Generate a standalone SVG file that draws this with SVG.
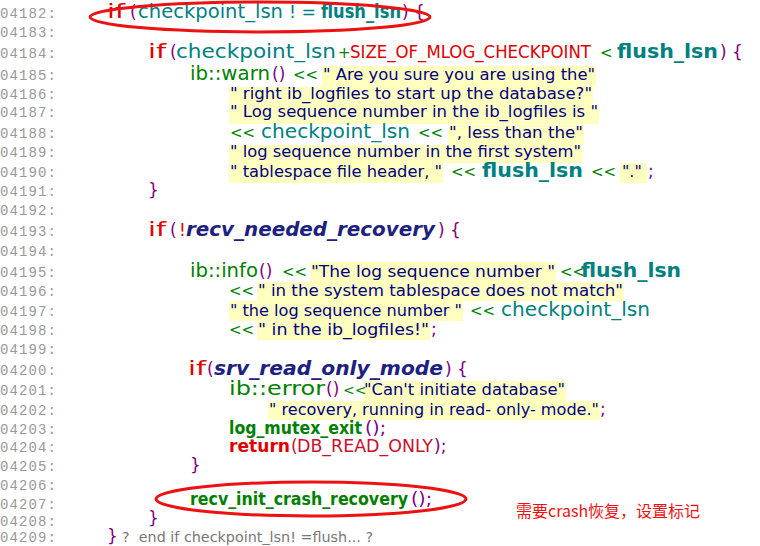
<svg xmlns="http://www.w3.org/2000/svg" width="760" height="546" viewBox="0 0 760 546">
<style>
text{font-family:"DejaVu Sans",Verdana,sans-serif;}
.n{font-family:"Liberation Mono",monospace;font-size:14px;fill:#999}
.k{fill:#e00000;font-size:19px}
.kb{fill:#e00000;font-weight:bold;font-size:17px}
.p{fill:#800080;font-size:17px}
.i{fill:#008080;font-size:19px}
.b{fill:#008080;font-size:19px;font-weight:bold}
.g{fill:#008000;font-size:17px}
.gb{fill:#008000;font-size:17px;font-weight:bold}
.s{fill:#000080;font-size:16px}
.r{fill:#e00000;font-size:17px}
.bi{fill:#202080;font-size:19px;font-weight:bold;font-style:italic}
.c{fill:#777;font-size:14px}
.hl{fill:#ffffc0}
.ov{fill:none;stroke:#ee1111;stroke-width:3}
</style>
<rect width="760" height="546" fill="#fff"/>
<g id="highlights">
<rect class="hl" x="322" y="66" width="274" height="21"/>
<rect class="hl" x="229" y="87" width="364" height="18"/>
<rect class="hl" x="229" y="105" width="370" height="19"/>
<rect class="hl" x="448" y="125" width="136" height="20"/>
<rect class="hl" x="229" y="145" width="353" height="18"/>
<rect class="hl" x="229" y="163" width="214" height="20"/>
<rect class="hl" x="620" y="163" width="27" height="20"/>
<rect class="hl" x="310" y="262" width="246" height="20"/>
<rect class="hl" x="257" y="282" width="367" height="19"/>
<rect class="hl" x="229" y="301" width="234" height="20"/>
<rect class="hl" x="257" y="321" width="173" height="19"/>
<rect class="hl" x="363" y="381" width="203" height="20"/>
<rect class="hl" x="268" y="401" width="332" height="19"/>
</g>
<g id="linenumbers">
<text class="n" x="0" y="18" textLength="56">04182:</text>
<text class="n" x="0" y="37" textLength="56">04183:</text>
<text class="n" x="0" y="58" textLength="56">04184:</text>
<text class="n" x="0" y="80" textLength="56">04185:</text>
<text class="n" x="0" y="99" textLength="56">04186:</text>
<text class="n" x="0" y="117" textLength="56">04187:</text>
<text class="n" x="0" y="138" textLength="56">04188:</text>
<text class="n" x="0" y="157" textLength="56">04189:</text>
<text class="n" x="0" y="177" textLength="56">04190:</text>
<text class="n" x="0" y="196" textLength="56">04191:</text>
<text class="n" x="0" y="215" textLength="56">04192:</text>
<text class="n" x="0" y="236" textLength="56">04193:</text>
<text class="n" x="0" y="256" textLength="56">04194:</text>
<text class="n" x="0" y="277" textLength="56">04195:</text>
<text class="n" x="0" y="296" textLength="56">04196:</text>
<text class="n" x="0" y="316" textLength="56">04197:</text>
<text class="n" x="0" y="335" textLength="56">04198:</text>
<text class="n" x="0" y="354" textLength="56">04199:</text>
<text class="n" x="0" y="375" textLength="56">04200:</text>
<text class="n" x="0" y="395" textLength="56">04201:</text>
<text class="n" x="0" y="415" textLength="56">04202:</text>
<text class="n" x="0" y="434" textLength="56">04203:</text>
<text class="n" x="0" y="452" textLength="56">04204:</text>
<text class="n" x="0" y="471" textLength="56">04205:</text>
<text class="n" x="0" y="490" textLength="56">04206:</text>
<text class="n" x="0" y="509" textLength="56">04207:</text>
<text class="n" x="0" y="526" textLength="56">04208:</text>
<text class="n" x="0" y="542" textLength="56">04209:</text>
</g>
<g id="code">
<text class="k" x="107" y="18" textLength="18" lengthAdjust="spacingAndGlyphs">if</text>
<text class="p" x="130" y="18">(</text>
<text class="i" x="138" y="18" textLength="145" lengthAdjust="spacingAndGlyphs">checkpoint_lsn</text>
<text class="i" x="289" y="18" textLength="27" lengthAdjust="spacingAndGlyphs" style="font-size:17px">! =</text>
<text class="b" x="321" y="18" textLength="80" lengthAdjust="spacingAndGlyphs">flush_lsn</text>
<text class="p" x="402" y="18">) {</text>

<text class="k" x="148" y="58" textLength="18" lengthAdjust="spacingAndGlyphs">if</text>
<text class="p" x="170" y="58">(</text>
<text class="i" x="176" y="58" textLength="160" lengthAdjust="spacingAndGlyphs">checkpoint_lsn</text>
<text class="g" x="338" y="58" style="font-size:15px">+</text>
<text class="r" x="350" y="58" textLength="241" lengthAdjust="spacingAndGlyphs">SIZE_OF_MLOG_CHECKPOINT</text>
<text class="g" x="600" y="58" style="font-size:15px">&lt;</text>
<text class="b" x="617" y="58" textLength="101" lengthAdjust="spacingAndGlyphs">flush_lsn</text>
<text class="p" x="720" y="58">) {</text>

<text class="g" x="190" y="80" textLength="80" lengthAdjust="spacingAndGlyphs" style="font-size:19px">ib::warn</text>
<text class="p" x="272" y="80">()</text>
<text class="g" x="293" y="80" style="font-size:15px">&lt;&lt;</text>
<text class="s" x="323" y="80" textLength="272" lengthAdjust="spacingAndGlyphs" xml:space="preserve">" Are you sure you are using the"</text>
<text class="s" x="230" y="99" textLength="362" lengthAdjust="spacingAndGlyphs">" right ib_logfiles to start up the database?"</text>
<text class="s" x="230" y="117" textLength="368" lengthAdjust="spacingAndGlyphs">" Log sequence number in the ib_logfiles is "</text>
<text class="g" x="230" y="138" style="font-size:15px">&lt;&lt;</text>
<text class="i" x="261" y="138" textLength="149" lengthAdjust="spacingAndGlyphs">checkpoint_lsn</text>
<text class="g" x="418" y="138" style="font-size:15px">&lt;&lt;</text>
<text class="s" x="449" y="138" textLength="134" lengthAdjust="spacingAndGlyphs">", less than the"</text>
<text class="s" x="230" y="157" textLength="351" lengthAdjust="spacingAndGlyphs">" log sequence number in the first system"</text>
<text class="s" x="230" y="177" textLength="212" lengthAdjust="spacingAndGlyphs" xml:space="preserve">" tablespace file header, "</text>
<text class="g" x="451" y="177" style="font-size:15px">&lt;&lt;</text>
<text class="b" x="482" y="177" textLength="101" lengthAdjust="spacingAndGlyphs">flush_lsn</text>
<text class="g" x="591" y="177" style="font-size:15px">&lt;&lt;</text>
<text class="s" x="622" y="177">"."</text>
<text class="p" x="648" y="177">;</text>
<text class="p" x="148" y="196">}</text>

<text class="k" x="148" y="236" textLength="18" lengthAdjust="spacingAndGlyphs">if</text>
<text class="p" x="170" y="236">(</text>
<text class="r" x="179" y="236">!</text>
<text class="bi" x="186" y="236" textLength="249" lengthAdjust="spacingAndGlyphs">recv_needed_recovery</text>
<text class="p" x="438" y="236">) {</text>

<text class="g" x="190" y="277" textLength="68" lengthAdjust="spacingAndGlyphs" style="font-size:19px">ib::info</text>
<text class="p" x="259" y="277">()</text>
<text class="g" x="282" y="277" style="font-size:15px">&lt;&lt;</text>
<text class="s" x="311" y="277" textLength="244" lengthAdjust="spacingAndGlyphs" xml:space="preserve">"The log sequence number "</text>
<text class="g" x="560" y="277" style="font-size:15px">&lt;&lt;</text>
<text class="b" x="581" y="277" textLength="100" lengthAdjust="spacingAndGlyphs">flush_lsn</text>
<text class="g" x="229" y="296" style="font-size:15px">&lt;&lt;</text>
<text class="s" x="258" y="296" textLength="365" lengthAdjust="spacingAndGlyphs">" in the system tablespace does not match"</text>
<text class="s" x="230" y="316" textLength="232" lengthAdjust="spacingAndGlyphs" xml:space="preserve">" the log sequence number "</text>
<text class="g" x="470" y="316" style="font-size:15px">&lt;&lt;</text>
<text class="i" x="501" y="316" textLength="149" lengthAdjust="spacingAndGlyphs">checkpoint_lsn</text>
<text class="g" x="229" y="335" style="font-size:15px">&lt;&lt;</text>
<text class="s" x="258" y="335" textLength="171" lengthAdjust="spacingAndGlyphs">" in the ib_logfiles!"</text>
<text class="p" x="431" y="335">;</text>

<text class="k" x="188" y="375" textLength="18" lengthAdjust="spacingAndGlyphs">if</text>
<text class="p" x="207" y="375">(</text>
<text class="bi" x="214" y="375" textLength="229" lengthAdjust="spacingAndGlyphs">srv_read_only_mode</text>
<text class="p" x="445" y="375">) {</text>

<text class="g" x="229" y="395" textLength="96" lengthAdjust="spacingAndGlyphs" style="font-size:19px">ib::error</text>
<text class="p" x="326" y="395">()</text>
<text class="g" x="343" y="395" style="font-size:14px">&lt;&lt;</text>
<text class="s" x="364" y="395" textLength="201" lengthAdjust="spacingAndGlyphs">"Can't initiate database"</text>
<text class="s" x="269" y="415" textLength="330" lengthAdjust="spacingAndGlyphs">" recovery, running in read- only- mode."</text>
<text class="p" x="600" y="415">;</text>
<text class="gb" x="229" y="434" textLength="133" lengthAdjust="spacingAndGlyphs">log_mutex_exit</text>
<text class="p" x="365" y="434" textLength="21" lengthAdjust="spacingAndGlyphs">();</text>
<text class="kb" x="229" y="452" textLength="61" lengthAdjust="spacingAndGlyphs">return</text>
<text class="p" x="291" y="452" style="fill:#c8102e">(</text>
<text class="r" x="297" y="452" textLength="136" lengthAdjust="spacingAndGlyphs" style="fill:#c8102e">DB_READ_ONLY</text>
<text class="p" x="434" y="452">);</text>
<text class="p" x="190" y="471">}</text>

<text class="gb" x="190" y="505" textLength="218" lengthAdjust="spacingAndGlyphs">recv_init_crash_recovery</text>
<text class="p" x="411" y="505" textLength="21" lengthAdjust="spacingAndGlyphs">();</text>
<text class="p" x="148" y="524">}</text>
<text class="p" x="107" y="542">}</text>
<text class="c" x="122" y="542" textLength="251" lengthAdjust="spacingAndGlyphs" xml:space="preserve">?  end if checkpoint_lsn! =flush... ?</text>
</g>
<g id="annotations">
<ellipse class="ov" cx="260" cy="17" rx="170" ry="15"/>
<ellipse class="ov" cx="311" cy="499" rx="155" ry="17"/>
<text x="516" y="517" textLength="184" lengthAdjust="spacingAndGlyphs" style="font-family:'Noto Sans CJK SC',sans-serif;font-size:16px;fill:#ee1111">需要crash恢复，设置标记</text>
</g>
</svg>
